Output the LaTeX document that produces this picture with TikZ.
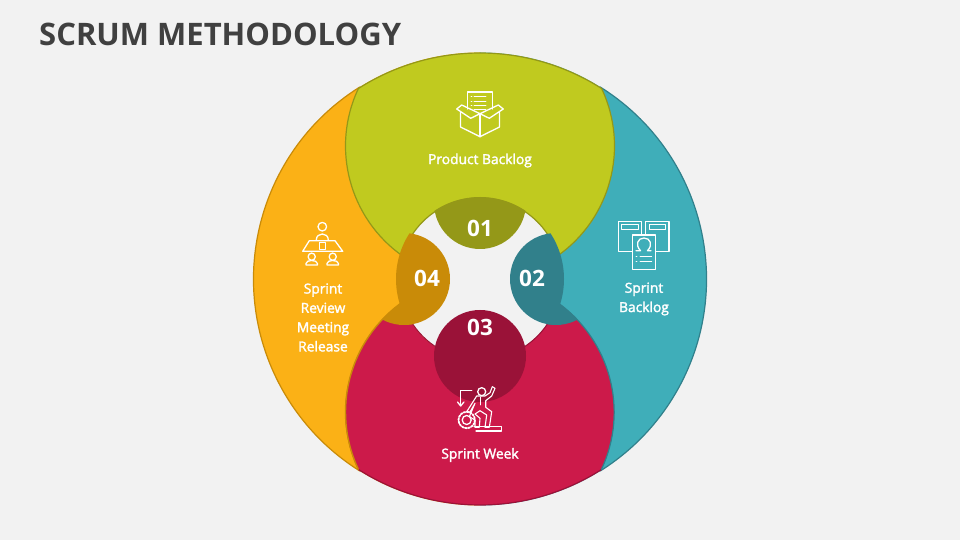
\documentclass[tikz,border=0pt]{standalone}
\usepackage{fontspec}
\setmainfont{Open Sans}
\newfontfamily\labelfont[FakeBold=2]{Open Sans}
\definecolor{pagebg}{HTML}{F2F2F2}
\definecolor{limefill}{HTML}{C0CA1F}
\definecolor{limedark}{HTML}{949818}
\definecolor{amberfill}{HTML}{FBB116}
\definecolor{amberdark}{HTML}{C98B08}
\definecolor{tealfill}{HTML}{3FAEB9}
\definecolor{tealdark}{HTML}{31808B}
\definecolor{rosefill}{HTML}{CC1A4A}
\definecolor{rosedark}{HTML}{9A1238}
\definecolor{titlegrey}{HTML}{404040}
\newcommand\rosepetal{(mid) ++(237.55:226) arc[start angle=237.55,end angle=302.45,radius=226] arc[start angle=-25.3,end angle=54.75,radius=134.5] arc[start angle=-16.6,end angle=-163.4,radius=81] arc[start angle=125.25,end angle=205.3,radius=134.5] -- cycle}
\tikzset{
  label/.style={text=white,align=center,font=\labelfont\fontsize{13.8}{19.3}\selectfont},
  num/.style={text=white,font=\fontsize{22.5}{26}\selectfont\bfseries},
  icon/.style={draw=white,line width=1.3pt,line join=round,line cap=round},
}
\begin{document}
\begin{tikzpicture}[x=1pt,y=1pt]
\useasboundingbox (0,0) rectangle (960,540);
\fill[pagebg] (0,0) rectangle (960,540);
\coordinate (mid) at (480,261);
\node[anchor=west,text=titlegrey,font=\fontsize{31}{36}\selectfont\bfseries,inner sep=0pt] (title) at (39,505.2) {SCRUM METHODOLOGY};

% outer ring halves
\fill[amberfill] (mid) ++(90:226.5) arc[start angle=90,end angle=270,radius=226.5] -- cycle;
\fill[tealfill] (mid) ++(-90:226.5) arc[start angle=-90,end angle=90,radius=226.5] -- cycle;
\draw[amberdark,line width=1.2pt] (mid) ++(122:226.5) arc[start angle=122,end angle=238,radius=226.5];
\draw[tealdark,line width=1.2pt] (mid) ++(58:226.5) arc[start angle=58,end angle=-58,radius=226.5];
\fill[pagebg] (mid) circle (81);

% top petal
\filldraw[fill=limefill,draw=limedark,line width=1.2pt] (mid) ++(122.55:226) arc[start angle=122.55,end angle=57.45,radius=226] arc[start angle=25.3,end angle=-54.75,radius=134.5] arc[start angle=16.6,end angle=163.4,radius=81] arc[start angle=234.75,end angle=154.7,radius=134.5] -- cycle;

% bottom petal, side edges take the neighbour colour
\fill[rosefill] \rosepetal;
\draw[rosedark,line width=1.2pt] (mid) ++(237.55:226) arc[start angle=237.55,end angle=302.45,radius=226];
\draw[rosedark,line width=1pt] (mid) ++(-16.6:81) arc[start angle=-16.6,end angle=-163.4,radius=81];
\draw[tealdark,line width=1.2pt] (mid) ++(302.45:226) arc[start angle=-25.3,end angle=54.75,radius=134.5];
\draw[amberdark,line width=1.4pt] (mid) ++(196.6:81) arc[start angle=125.25,end angle=205.3,radius=134.5];

% number lenses
\begin{scope}
  \clip (480,337) circle (46);
  \fill[limedark] (mid) circle (82);
\end{scope}
\begin{scope}
  \clip (556,261) circle (46);
  \fill[tealdark] (mid) circle (84);
  \fill[tealdark] \rosepetal;
\end{scope}
\begin{scope}
  \clip (404,261) circle (46);
  \fill[amberdark] (mid) circle (84);
  \fill[amberdark] \rosepetal;
\end{scope}
\fill[rosedark] (480,184) circle (46);

\node[num] (n01) at (480,311.5) {01};
\node[num] (n02) at (532,261.5) {02};
\node[num] (n03) at (480,212.5) {03};
\node[num] (n04) at (427,261.5) {04};

\node[label] (lab01) at (480,379.5) {Product Backlog};
\node[label] (lab02) at (644,241) {Sprint\\Backlog};
\node[label] (lab03) at (480,85) {Sprint Week};
\node[label] (lab04) at (323,222.5) {Sprint\\Review\\Meeting\\Release};

% icons, typed with y from the top
\begin{scope}[shift={(0,540)},yscale=-1]
  % box
  \draw[icon] (467.5,109) -- (467.5,92) -- (492.5,92) -- (492.5,109);
  \foreach \rowy in {96.7,101,105,109}{
    \draw[icon,line width=.9pt] (474,\rowy) -- (486,\rowy);
    \draw[icon,line width=.9pt] (471,\rowy) -- (472,\rowy);
  }
  \draw[icon] (461.7,105) -- (456.7,109) -- (470.7,118.3) -- (480,113.7) -- (489.3,118.3) -- (503.3,109) -- (498.3,105) -- (480,113.7) -- cycle;
  \draw[icon] (460.5,112.5) -- (460.5,127) -- (480,136.7) -- (499.5,127) -- (499.5,112.5);
  \draw[icon] (480,113.7) -- (480,136.7);
  % meeting table
  \draw[icon] (322.3,226.7) circle (4.3);
  \draw[icon] (316.3,240) .. controls (316.3,232) and (328.3,232) .. (328.3,240);
  \draw[icon] (309.3,240.7) -- (335,240.7) -- (342.7,251.3) -- (302.7,251.3) -- cycle;
  \draw[icon] (319.3,242.6) rectangle (325.3,249.3);
  \foreach \seatx in {311.7,332.7}{
    \draw[icon] (\seatx,256.7) circle (3.6);
    \draw[icon] (\seatx-5.7,265) -- (\seatx-5.7,263.5) .. controls (\seatx-5.7,259.5) and (\seatx+5.7,259.5) .. (\seatx+5.7,263.5) -- (\seatx+5.7,265) -- cycle;
  }
  % sheets
  \draw[icon] (618.3,221.7) rectangle (641.7,251.7);
  \draw[icon] (645.7,221.7) rectangle (669,251.7);
  \draw[icon,line width=1pt] (621.7,225) rectangle (638.3,230);
  \draw[icon,line width=1pt] (649,225) rectangle (665.7,230);
  \filldraw[icon,fill=tealfill] (632.3,235) rectangle (655.7,269.3);
  \draw[icon] (636,250.7) -- (640.5,250.7) .. controls (635,245) and (637.5,238) .. (644,238) .. controls (650.5,238) and (653,245) .. (647.5,250.7) -- (651,250.7);
  \foreach \rowy in {256.7,261.7}{
    \draw[icon,line width=.9pt] (640,\rowy) -- (651.7,\rowy);
    \draw[icon,line width=.9pt] (636,\rowy) -- (636.8,\rowy);
  }
  % runner with gear
  \draw[icon] (481.7,391.7) circle (4);
  \draw[icon,line width=1.1pt] (476.7,396) -- (485,396) -- (490,392.7) -- (492.3,386.7) -- (495,388.3) -- (491.7,396) -- (485.7,400.7) -- (485.7,407.3) -- (491.7,411.7) -- (489.3,427.3) -- (485,427.3) -- (486.7,415) -- (480,410.7) -- (475,414) -- (480,418.3) -- (479.3,427.3) -- (475,427.3) -- (475,420) -- (469.3,416.7) -- (475,403.3) -- (470,412) -- (466.7,411.7) -- cycle;
  \draw[icon,line width=1pt] (480.5,397) -- (480.5,405);
  \draw[icon] (471.7,390.7) -- (460.7,390.7) -- (460.7,405);
  \draw[icon] (457.5,402) -- (460.7,406) -- (463.9,402);
  \draw[icon,dashed,dash pattern=on 1.8pt off 1.4pt,line width=1.8pt] (466.7,420) circle (8.2);
  \draw[icon] (466.7,420) circle (4.5);
  \draw[icon] (474,426.5) -- (501.7,426.5) -- (501.7,431) -- (476,431);
\end{scope}
\end{tikzpicture}
\end{document}
